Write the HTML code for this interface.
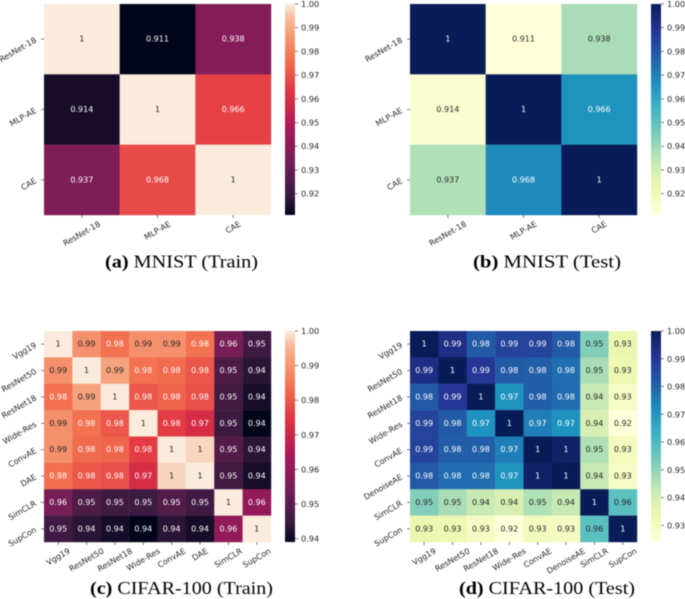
<!DOCTYPE html>
<html lang="en">
<head>
<meta charset="utf-8">
<title>Similarity heatmaps</title>
<style>
html,body{margin:0;padding:0;background:#fff;}
body{width:685px;height:599px;overflow:hidden;}
svg{display:block;filter:blur(0.45px);}
.dv{font-family:"DejaVu Sans","Liberation Sans",sans-serif;}
.cap{font-family:"Liberation Serif",serif;font-size:18px;fill:#000;}
</style>
</head>
<body>
<svg id="fig" xmlns="http://www.w3.org/2000/svg" width="685" height="599" viewBox="0 0 685 599">
<defs id="defs"></defs>
<text class="cap" x="105" y="267.5" textLength="153" lengthAdjust="spacingAndGlyphs"><tspan font-weight="bold">(a)</tspan> MNIST (Train)</text>
<text class="cap" x="473" y="267.5" textLength="148" lengthAdjust="spacingAndGlyphs"><tspan font-weight="bold">(b)</tspan> MNIST (Test)</text>
<text class="cap" x="90" y="594" textLength="183" lengthAdjust="spacingAndGlyphs"><tspan font-weight="bold">(c)</tspan> CIFAR-100 (Train)</text>
<text class="cap" x="459" y="594" textLength="176" lengthAdjust="spacingAndGlyphs"><tspan font-weight="bold">(d)</tspan> CIFAR-100 (Test)</text>
</svg>
<script>
const mnistLabels = ["ResNet-18", "MLP-AE", "CAE"];
const mnistTrainValues = [
  [1, 0.911, 0.938],
  [0.914, 1, 0.966],
  [0.937, 0.968, 1]
];
const mnistTestValues = [
  [1, 0.911, 0.938],
  [0.914, 1, 0.966],
  [0.937, 0.968, 1]
];
const mnistTicks = [0.92, 0.93, 0.94, 0.95, 0.96, 0.97, 0.98, 0.99, 1.00];

const cifarTrainLabels = ["Vgg19", "ResNet50", "ResNet18", "Wide-Res", "ConvAE", "DAE", "SimCLR", "SupCon"];
const cifarTrainValues = [
  [1, 0.989, 0.984, 0.989, 0.989, 0.984, 0.9555, 0.946],
  [0.989, 1, 0.992, 0.984, 0.983, 0.980, 0.948, 0.943],
  [0.984, 0.992, 1, 0.980, 0.982, 0.979, 0.946, 0.941],
  [0.989, 0.984, 0.980, 1, 0.976, 0.9725, 0.9455, 0.939],
  [0.989, 0.983, 0.982, 0.976, 1, 0.998, 0.949, 0.943],
  [0.984, 0.980, 0.979, 0.9725, 0.998, 1, 0.946, 0.941],
  [0.9555, 0.948, 0.946, 0.9455, 0.949, 0.946, 1, 0.960],
  [0.946, 0.943, 0.941, 0.939, 0.943, 0.941, 0.960, 1]
];
const cifarTrainTicks = [0.94, 0.95, 0.96, 0.97, 0.98, 0.99, 1.00];

const cifarTestLabels = ["Vgg19", "ResNet50", "ResNet18", "Wide-Res", "ConvAE", "DenoiseAE", "SimCLR", "SupCon"];
const cifarTestValues = [
  [1, 0.993, 0.982, 0.987, 0.987, 0.982, 0.952, 0.934],
  [0.993, 1, 0.990, 0.982, 0.981, 0.978, 0.947, 0.933],
  [0.982, 0.990, 1, 0.971, 0.981, 0.978, 0.943, 0.929],
  [0.987, 0.982, 0.971, 1, 0.975, 0.971, 0.939, 0.924],
  [0.987, 0.981, 0.981, 0.975, 1, 0.998, 0.946, 0.931],
  [0.982, 0.978, 0.978, 0.971, 0.998, 1, 0.943, 0.929],
  [0.952, 0.947, 0.943, 0.939, 0.946, 0.943, 1, 0.958],
  [0.934, 0.933, 0.929, 0.924, 0.931, 0.929, 0.958, 1]
];
const cifarTestTicks = [0.93, 0.94, 0.95, 0.96, 0.97, 0.98, 0.99, 1.00];

const rocketStops = [[0,"#03051a"],[0.083,"#35193e"],[0.25,"#701f57"],[0.417,"#ad1759"],[0.583,"#e13342"],[0.75,"#f37651"],[0.917,"#f6b48f"],[1,"#faebdd"]];
const ylgnbuStops = [[0,"#ffffd9"],[0.125,"#edf8b1"],[0.25,"#c7e9b4"],[0.375,"#7fcdbb"],[0.5,"#41b6c4"],[0.625,"#1d91c0"],[0.75,"#225ea8"],[0.875,"#253494"],[1,"#081d58"]];

const NS = "http://www.w3.org/2000/svg";
const fig = document.getElementById("fig");
const defs = document.getElementById("defs");

function hexRgb(h){
  return [parseInt(h.slice(1,3),16),parseInt(h.slice(3,5),16),parseInt(h.slice(5,7),16)];
}
function colorAt(stops,t){
  t = Math.max(0,Math.min(1,t));
  for(let i=1;i<stops.length;i++){
    if(t<=stops[i][0]){
      const a=stops[i-1],b=stops[i];
      const f=(t-a[0])/(b[0]-a[0]);
      const ca=hexRgb(a[1]),cb=hexRgb(b[1]);
      return ca.map((c,k)=>Math.round(c+(cb[k]-c)*f));
    }
  }
  return hexRgb(stops[stops.length-1][1]);
}
function luminance(c){
  const l=c.map(v=>{v/=255;return v<=0.03928?v/12.92:Math.pow((v+0.055)/1.055,2.4);});
  return 0.2126*l[0]+0.7152*l[1]+0.0722*l[2];
}
function fmt(v,p){ return String(Number(v.toPrecision(p))); }
function node(tag,attrs,parent){
  const e=document.createElementNS(NS,tag);
  for(const k in attrs) e.setAttribute(k,attrs[k]);
  parent.appendChild(e);
  return e;
}

function drawHeatmap(id,x0,y0,labels,values,ticks,stops,prec,annoSize,cbX){
  const W=227,H=211,CBW=10;
  const n=labels.length;
  const flat=values.flat();
  const vmin=Math.min(...flat),vmax=Math.max(...flat);
  const xScale=i=>x0+i*W/n;
  const yScale=i=>y0+i*H/n;
  const tScale=v=>(v-vmin)/(vmax-vmin);
  const cbY=v=>y0+H-tScale(v)*H;
  const g=node("g",{},fig);
  
  

  values.forEach((row,r)=>row.forEach((v,c)=>{
    const col=colorAt(stops,tScale(v));
    const rect=node("rect",{x:xScale(c),y:yScale(r),width:W/n+0.2,height:H/n+0.2,fill:"rgb("+col.join(",")+")"},g);
    
    
    const t=node("text",{x:xScale(c)+W/n/2,y:yScale(r)+H/n/2,"class":"dv","font-size":annoSize,"text-anchor":"middle","dominant-baseline":"central",fill:luminance(col)<0.37?"#ffffff":"#262626"},g);
    t.textContent=fmt(v,prec);
    
    
  }));

  const lh=9;
  labels.forEach((lab,i)=>{
    const cx=xScale(i)+W/n/2;
    const xt=node("line",{x1:cx,x2:cx,y1:y0+H,y2:y0+H+3,stroke:"#444","stroke-width":0.7},g);
    
    
    const xl=node("text",{"class":"dv","font-size":8,"text-anchor":"middle","dominant-baseline":"central",fill:"#262626"},g);
    xl.textContent=lab;
    
    
    const w=xl.getComputedTextLength();
    const cyx=y0+H+4.5+(w*0.5+lh*0.866)/2;
    xl.setAttribute("x",cx);
    xl.setAttribute("y",cyx);
    xl.setAttribute("transform","rotate(-30 "+cx+" "+cyx+")");

    const cy=yScale(i)+H/n/2;
    const yt=node("line",{x1:x0-3,x2:x0,y1:cy,y2:cy,stroke:"#444","stroke-width":0.7},g);
    
    
    const yl=node("text",{"class":"dv","font-size":8,"text-anchor":"middle","dominant-baseline":"central",fill:"#262626"},g);
    yl.textContent=lab;
    
    
    const wy=yl.getComputedTextLength();
    const bx=x0-6-(wy*0.866+lh*0.5)/2;
    const by=cy-3.5+(wy*0.5+lh*0.866)/2;
    yl.setAttribute("x",bx);
    yl.setAttribute("y",by);
    yl.setAttribute("transform","rotate(-30 "+bx+" "+by+")");
  });

  const gradId=id+"-grad";
  const grad=node("linearGradient",{id:gradId,x1:0,y1:1,x2:0,y2:0},defs);
  stops.forEach(s=>node("stop",{offset:s[0],"stop-color":s[1]},grad));
  const cb=node("rect",{x:cbX,y:y0,width:CBW,height:H,fill:"url(#"+gradId+")"},g);
  
  
  ticks.forEach(v=>{
    const y=cbY(v);
    const tk=node("line",{x1:cbX+CBW,x2:cbX+CBW+3,y1:y,y2:y,stroke:"#444","stroke-width":0.7},g);
    
    
    const tl=node("text",{x:cbX+CBW+6,y:y,"class":"dv","font-size":8.2,"dominant-baseline":"central",fill:"#262626"},g);
    tl.textContent=v.toFixed(2);
    
    
  });
}

drawHeatmap("mnist-train",44,4,mnistLabels,mnistTrainValues,mnistTicks,rocketStops,3,8,285);
drawHeatmap("mnist-test",410,4,mnistLabels,mnistTestValues,mnistTicks,ylgnbuStops,3,8,651);
drawHeatmap("cifar-train",44,331,cifarTrainLabels,cifarTrainValues,cifarTrainTicks,rocketStops,2,8,285);
drawHeatmap("cifar-test",410,331,cifarTestLabels,cifarTestValues,cifarTestTicks,ylgnbuStops,2,8,651);
</script>
</body>
</html>
